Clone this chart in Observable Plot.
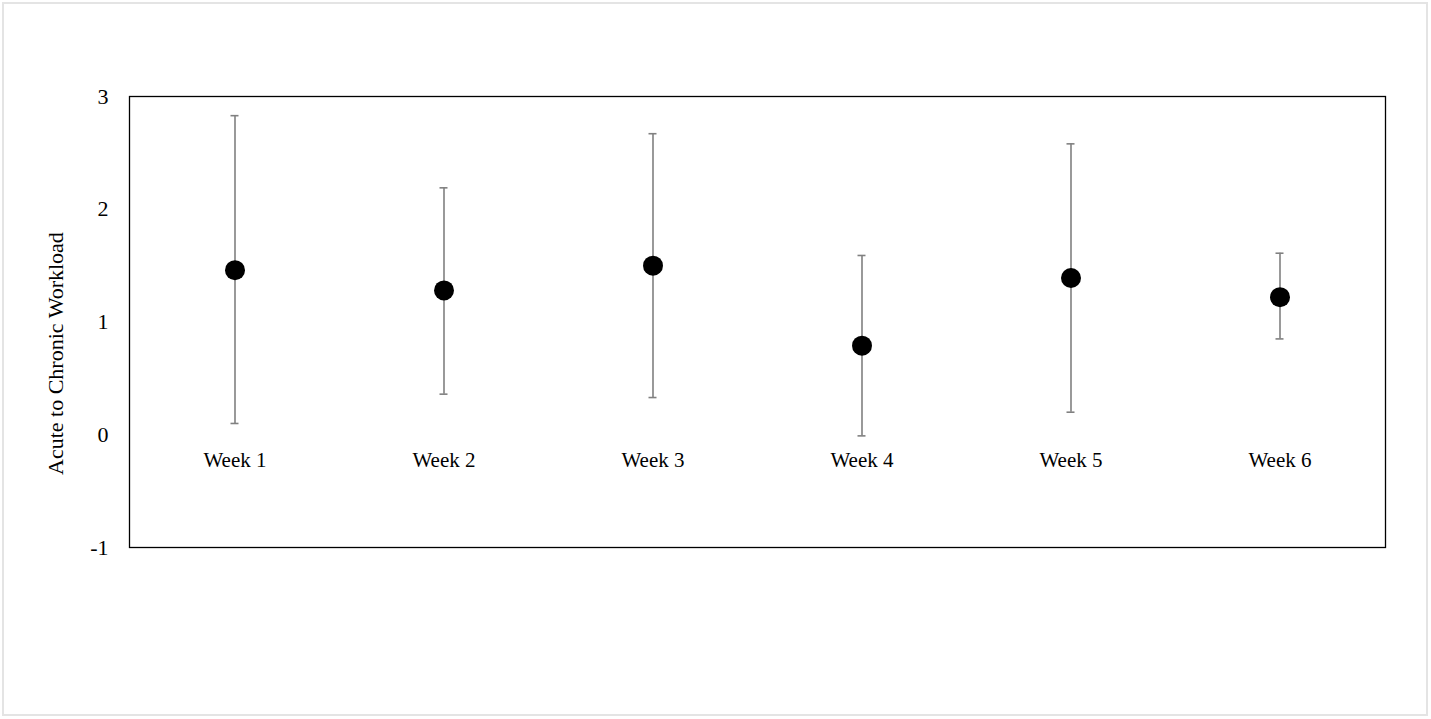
<!DOCTYPE html>
<html>
<head>
<meta charset="utf-8">
<script src="https://cdn.jsdelivr.net/npm/d3@7"></script>
<script src="https://cdn.jsdelivr.net/npm/@observablehq/plot@0.6"></script>
<style>
  html, body { margin: 0; padding: 0; background: #fff; }
  #wrap { position: relative; width: 1431px; height: 719px; overflow: hidden; }
  #border { position: absolute; left: 2px; top: 2px; width: 1422px; height: 710px; border: 2px solid #e4e4e4; }
  #chart { position: absolute; left: 0; top: 0; }
</style>
</head>
<body>
<div id="wrap"><div id="border"></div><div id="chart"></div></div>
<script>
const weeks = ["Week 1", "Week 2", "Week 3", "Week 4", "Week 5", "Week 6"];
const means = [1.46, 1.28, 1.50, 0.79, 1.39, 1.22];
const upper = [2.83, 2.19, 2.67, 1.59, 2.58, 1.61];
const lower = [0.10, 0.36, 0.33, -0.01, 0.20, 0.85];
const yTicks = [-1, 0, 1, 2, 3];
const yLabel = "Acute to Chronic Workload";
const yLabelPos = 0.72;

const data = weeks.map((w, i) => ({week: w, mean: means[i], hi: upper[i], lo: lower[i]}));
const font = "'Liberation Serif', 'Times New Roman', serif";

const chart = Plot.plot({
  width: 1431,
  height: 719,
  marginLeft: 129,
  marginRight: 46,
  marginTop: 96,
  marginBottom: 172,
  style: {fontFamily: font, fontSize: "21px", color: "#000", background: "transparent"},
  x: {type: "band", domain: weeks, padding: 0},
  y: {domain: [-1, 3]},
  marks: [
    Plot.frame({stroke: "#000", strokeWidth: 1.3}),
    Plot.axisY({ticks: yTicks, tickSize: 0, tickPadding: 21, label: null, tickFormat: d => String(d), fontSize: 22}),
    Plot.axisX({anchor: "bottom", tickSize: 0, tickPadding: 3, dy: -98, label: null, fontSize: 21}),
    Plot.ruleX(data, {x: "week", y1: "lo", y2: "hi", stroke: "#808080", strokeWidth: 1.6}),
    Plot.tickY(data, {x: "week", y: "hi", stroke: "#808080", strokeWidth: 1.6, insetLeft: 100.5, insetRight: 100.5}),
    Plot.tickY(data, {x: "week", y: "lo", stroke: "#808080", strokeWidth: 1.6, insetLeft: 100.5, insetRight: 100.5}),
    Plot.dot(data, {x: "week", y: "mean", r: 10, fill: "#000", stroke: "none"}),
    Plot.text([yLabel], {frameAnchor: "left", y: [yLabelPos], dx: -74, rotate: -90, text: d => d, fontSize: 22, fill: "#000", textAnchor: "middle", lineAnchor: "middle"})
  ]
});
document.getElementById("chart").appendChild(chart);
</script>
</body>
</html>
